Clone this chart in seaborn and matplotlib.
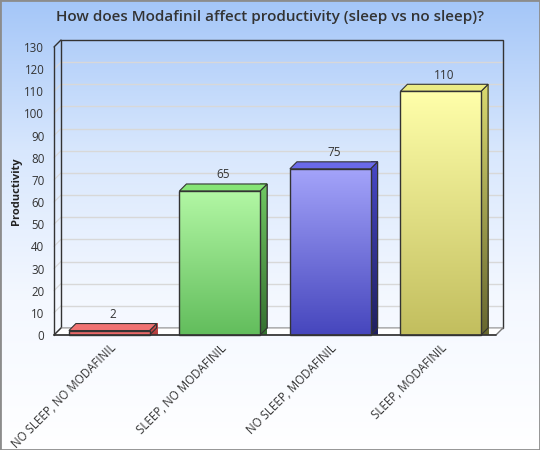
import numpy as np
import matplotlib
matplotlib.use("Agg")
import matplotlib.pyplot as plt
import seaborn as sns
from matplotlib.colors import LinearSegmentedColormap
from matplotlib.patches import Polygon, Rectangle

sns.set_style("white")
plt.rcParams["font.family"] = ["Open Sans", "DejaVu Sans"]

categories = ["NO SLEEP, NO MODAFINIL", "SLEEP, NO MODAFINIL",
              "NO SLEEP, MODAFINIL", "SLEEP, MODAFINIL"]
productivity = [2, 65, 75, 110]

# front gradient (bottom, top), side gradient (bottom, top), top face
front_cols = [("#e86060", "#f47a7a"), ("#62bd5c", "#b2f7a4"),
              ("#4646bd", "#a4a4fa"), ("#c2be5e", "#ffffaa")]
side_cols = [("#b03c3c", "#d05050"), ("#357030", "#70c862"),
             ("#1f1f5e", "#4848c8"), ("#66662f", "#dada70")]
top_cols = ["#f07272", "#86e476", "#6a6aea", "#ecec84"]

fig = plt.figure(figsize=(5.4, 4.5), dpi=100)

# background gradient
bg = fig.add_axes([0, 0, 1, 1], zorder=-10)
grad = np.linspace(0, 1, 256).reshape(-1, 1)
bg_cmap = LinearSegmentedColormap.from_list("bg", ["#ffffff", "#f4f8ff", "#d8e7fd", "#a4c6f8"])
bg.imshow(grad, cmap=bg_cmap, aspect="auto", origin="lower", extent=[0, 1, 0, 1])
bg.set_xlim(0, 1)
bg.set_ylim(0, 1)
bg.axis("off")
bg.add_patch(Rectangle((0, 0), 1, 1, fill=False, ec="#8c8c8c", lw=2, transform=bg.transAxes))

ax = fig.add_axes([0.1, 0.2556, 0.8185, 0.64])
ax.set_facecolor("none")
sns.barplot(x=categories, y=productivity, hue=categories, palette=[c[1] for c in front_cols],
            width=0.73, legend=False, ax=ax, saturation=1)
ax.set_xlim(-0.5, 3.5)
ax.set_ylim(0, 130)
for s in ax.spines.values():
    s.set_visible(False)

# 3d depth in data units (7 px)
p0 = ax.transData.transform((0, 0))
dx, dy = ax.transData.inverted().transform(p0 + np.array([7, 7])) - np.array([0, 0])

edge = "#333333"
x0, x1 = -0.5, 3.5
# back wall with grid
ax.add_patch(Rectangle((x0 + dx, dy), x1 - x0, 130, fill=False, ec=edge, lw=1, clip_on=False, zorder=0.5))
for t in range(10, 130, 10):
    ax.plot([x0 + dx, x1 + dx], [t + dy, t + dy], color="#d8d8d8", lw=1, clip_on=False, zorder=0.4)
    ax.plot([x0, x0 + dx], [t, t + dy], color="#d8d8d8", lw=0.8, clip_on=False, zorder=0.4)
# floor
ax.add_patch(Polygon([(x0, 0), (x1, 0), (x1 + dx, dy), (x0 + dx, dy)], closed=True,
                     fc="#ffffff", ec="#9a9a9a", lw=0.8, clip_on=False, zorder=0.6))
ax.plot([x0, x1], [0, 0], color=edge, lw=1.2, clip_on=False, zorder=5)
ax.plot([x1, x1 + dx], [0, dy], color="#777777", lw=0.8, clip_on=False, zorder=0.7)
# left wall
ax.plot([x0, x0], [0, 130], color=edge, lw=1, clip_on=False, zorder=5)
ax.plot([x0, x0 + dx], [130, 130 + dy], color=edge, lw=1, clip_on=False, zorder=5)
ax.plot([x0, x0 + dx], [0, dy], color=edge, lw=1, clip_on=False, zorder=5)

for i, p in enumerate(ax.patches[:len(productivity)]):
    bx, w, h = p.get_x(), p.get_width(), p.get_height()
    p.set_zorder(3)
    p.set_edgecolor("none")
    # side face
    side = Polygon([(bx + w, 0), (bx + w + dx, dy), (bx + w + dx, h + dy), (bx + w, h)],
                   closed=True, fc=side_cols[i][0], ec=edge, lw=0.8, zorder=2.5, clip_on=False)
    ax.add_patch(side)
    cm_s = LinearSegmentedColormap.from_list("s%d" % i, side_cols[i])
    im = ax.imshow(grad, cmap=cm_s, aspect="auto", origin="lower",
                   extent=[bx + w, bx + w + dx, 0, h + dy], zorder=2.6, clip_on=False)
    im.set_clip_path(side)
    ax.add_patch(Polygon(side.get_xy(), closed=True, fill=False, ec=edge, lw=0.8, zorder=2.7, clip_on=False))
    # top face
    ax.add_patch(Polygon([(bx, h), (bx + dx, h + dy), (bx + w + dx, h + dy), (bx + w, h)],
                         closed=True, fc=top_cols[i], ec=edge, lw=0.8, zorder=2.8, clip_on=False))
    # front face gradient
    cm_f = LinearSegmentedColormap.from_list("f%d" % i, front_cols[i])
    im = ax.imshow(grad, cmap=cm_f, aspect="auto", origin="lower",
                   extent=[bx, bx + w, 0, h], zorder=3.5)
    im.set_clip_path(p)
    ax.add_patch(Rectangle((bx, 0), w, h, fill=False, ec=edge, lw=1, zorder=4, clip_on=False))
    ax.annotate(str(productivity[i]), xy=(bx + w / 2 + dx / 2, h + dy), xytext=(0, 2),
                textcoords="offset points", ha="center", va="bottom", fontsize=8.5, color="#333333")

ax.set_xlim(-0.5, 3.5)
ax.set_ylim(0, 130)
ax.set_yticks(range(0, 131, 10))
ax.tick_params(axis="y", length=0, pad=7, labelsize=8.3, colors="#333333")
ax.tick_params(axis="x", length=0, pad=5, labelsize=8.3, colors="#333333")
plt.setp(ax.get_xticklabels(), rotation=45, ha="right", va="top", rotation_mode="anchor")
ax.set_ylabel("Productivity", fontsize=8, fontweight="bold", color="#222222", labelpad=1.5)
ax.grid(False)

fig.text(0.5, 0.962, "How does Modafinil affect productivity (sleep vs no sleep)?",
         ha="center", va="center", fontsize=11, fontweight="semibold", color="#333333")

fig.savefig("out.png", dpi=100)
